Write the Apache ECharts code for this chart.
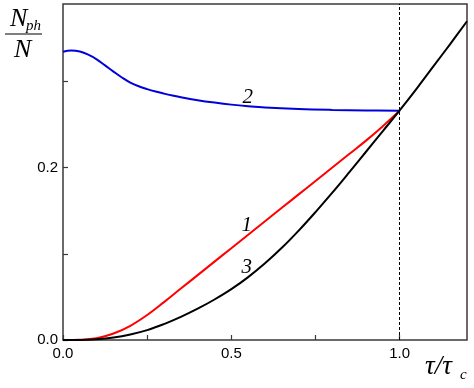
<!DOCTYPE html>
<html>
<head>
<meta charset="utf-8">
<script src="https://cdn.jsdelivr.net/npm/echarts@6/dist/echarts.min.js"></script>
<style>
html,body{margin:0;padding:0;background:#fff;}
#chart{width:474px;height:388px;}
</style>
</head>
<body>
<div id="chart"></div>
<script>
// ---- data ----
const curve1X = [0, 0.05, 0.10, 0.15, 0.20, 0.25, 0.30, 0.35, 0.40, 0.45, 0.50, 0.55, 0.60, 0.65, 0.70, 0.75, 0.80, 0.85, 0.90, 0.95, 1.0];
const curve1Y = [0, 0.0003, 0.002, 0.0075, 0.0165, 0.029, 0.044, 0.0597, 0.0753, 0.091, 0.1066, 0.1222, 0.1378, 0.1534, 0.169, 0.1846, 0.2002, 0.2158, 0.2314, 0.2482, 0.266];

const curve2X = [0, 0.025, 0.05, 0.075, 0.10, 0.125, 0.15, 0.175, 0.20, 0.225, 0.25, 0.275, 0.30, 0.325, 0.35, 0.40, 0.45, 0.50, 0.55, 0.60, 0.70, 0.80, 0.90, 1.0];
const curve2Y = [0.3345, 0.3360, 0.3348, 0.3312, 0.3258, 0.3187, 0.3115, 0.3047, 0.2988, 0.2945, 0.2912, 0.2884, 0.2860, 0.2838, 0.2818, 0.2784, 0.2756, 0.2732, 0.2713, 0.2698, 0.2681, 0.2671, 0.2665, 0.2660];

const curve3X = [0, 0.05, 0.10, 0.15, 0.20, 0.25, 0.30, 0.35, 0.40, 0.45, 0.50, 0.55, 0.60, 0.65, 0.70, 0.75, 0.80, 0.85, 0.90, 0.95, 1.0, 1.05, 1.10, 1.15, 1.20];
const curve3Y = [0, 0.0001, 0.0010, 0.0030, 0.0065, 0.0115, 0.0185, 0.0268, 0.0363, 0.0470, 0.0590, 0.0730, 0.0890, 0.1070, 0.1270, 0.1485, 0.1710, 0.1945, 0.2185, 0.2425, 0.2665, 0.2915, 0.3175, 0.3435, 0.3700];

const curveNames = ['1', '2', '3'];
const criticalX = 1.0;

const xTickLabels = [0, 0.5, 1.0];
const xTickMarks = [0, 0.25, 0.5, 0.75, 1.0];
const yTickLabels = [0, 0.2];
const yTickMarks = [0, 0.1, 0.2, 0.3];
const xRange = [0, 1.2];
const yRange = [0, 0.39];

// ---- build ----
const zip = (xs, ys) => xs.map((x, i) => [x, ys[i]]);
const labelFont = { fontFamily: 'Liberation Serif', fontStyle: 'italic', fontSize: 21, color: '#000' };

function curveLabel(name, coord) {
  return {
    symbol: 'circle', symbolSize: 0, silent: true,
    label: { show: true, position: 'inside', formatter: name, ...labelFont },
    data: [{ coord: coord }]
  };
}

const chart = echarts.init(document.getElementById('chart'), null, { renderer: 'canvas' });
chart.setOption({
  animation: false,
  backgroundColor: '#fff',
  grid: { left: 63, right: 7, top: 4, bottom: 48, show: true, borderColor: '#3a3a3a', borderWidth: 1.5, backgroundColor: 'transparent' },
  xAxis: {
    type: 'value', min: xRange[0], max: xRange[1],
    axisLine: { show: false },
    splitLine: { show: false },
    axisTick: { show: true, inside: true, length: 5, customValues: xTickMarks, lineStyle: { color: '#3a3a3a', width: 1.2 } },
    axisLabel: { customValues: xTickLabels, margin: 6, fontFamily: 'Liberation Sans', fontSize: 15, color: '#000',
      formatter: v => v.toFixed(1) }
  },
  yAxis: {
    type: 'value', min: yRange[0], max: yRange[1],
    axisLine: { show: false },
    splitLine: { show: false },
    axisTick: { show: true, inside: true, length: 5, customValues: yTickMarks, lineStyle: { color: '#3a3a3a', width: 1.2 } },
    axisLabel: { customValues: yTickLabels, margin: 5, fontFamily: 'Liberation Sans', fontSize: 15, color: '#000',
      formatter: v => v.toFixed(1) }
  },
  series: [
    {
      type: 'line', name: curveNames[0], data: zip(curve1X, curve1Y), smooth: 0.4, symbol: 'none',
      lineStyle: { color: '#ff0000', width: 2 }, z: 3,
      markPoint: curveLabel(curveNames[0], [0.546, 0.1326])
    },
    {
      type: 'line', name: curveNames[1], data: zip(curve2X, curve2Y), smooth: 0.4, symbol: 'none',
      lineStyle: { color: '#0000dd', width: 2 }, z: 3,
      markPoint: curveLabel(curveNames[1], [0.549, 0.2815])
    },
    {
      type: 'line', name: curveNames[2], data: zip(curve3X, curve3Y), smooth: 0.4, symbol: 'none',
      lineStyle: { color: '#000', width: 2 }, z: 4,
      markPoint: curveLabel(curveNames[2], [0.546, 0.0837]),
      markLine: {
        silent: true, symbol: ['none', 'none'], label: { show: false },
        lineStyle: { color: '#000', type: [3, 2], width: 1 },
        data: [{ xAxis: criticalX }]
      }
    }
  ],
  graphic: [
    { type: 'text', left: 10, top: 6, style: { text: 'N', font: 'italic 26px "Liberation Serif"', fill: '#000' } },
    { type: 'text', left: 26, top: 19, style: { text: 'ph', font: 'italic 15px "Liberation Serif"', fill: '#000' } },
    { type: 'line', shape: { x1: 5, y1: 34, x2: 42, y2: 34 }, style: { stroke: '#000', lineWidth: 1.2 } },
    { type: 'text', left: 14, top: 37, style: { text: 'N', font: 'italic 26px "Liberation Serif"', fill: '#000' } },
    { type: 'text', left: 425, top: 353, style: { text: 'τ/τ', font: 'italic 27px "Liberation Serif"', fill: '#000' } },
    { type: 'text', left: 460, top: 368, style: { text: 'c', font: 'italic 15px "Liberation Serif"', fill: '#000' } }
  ]
});
</script>
</body>
</html>
